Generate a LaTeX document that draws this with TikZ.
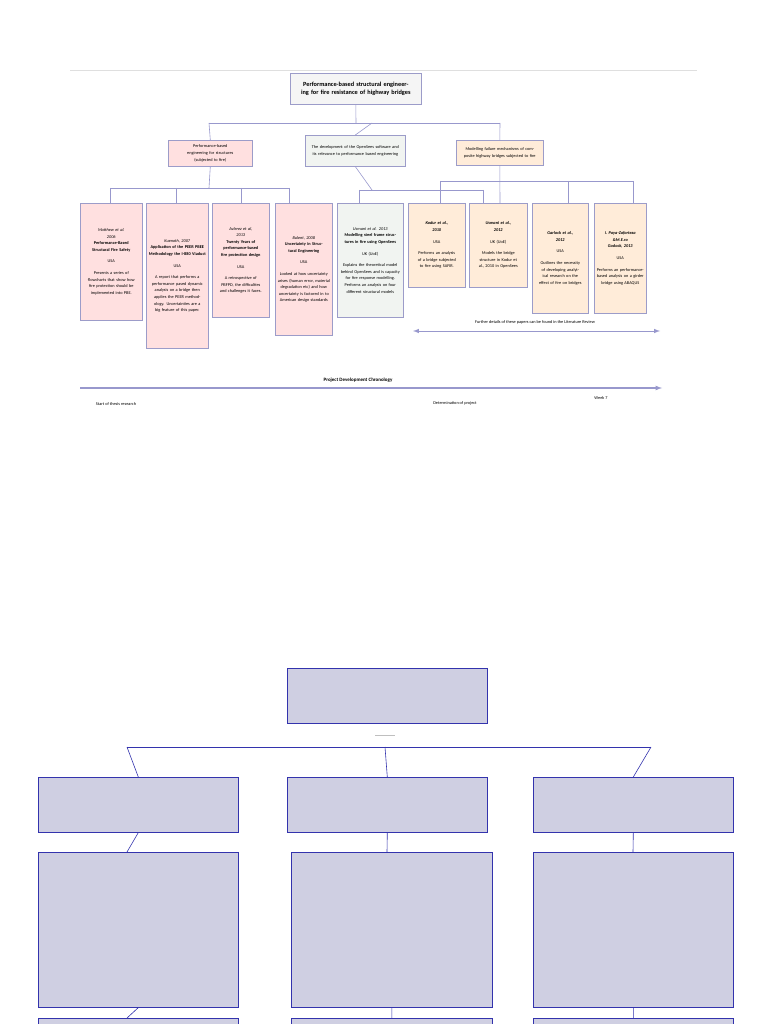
\documentclass[tikz,border=0pt]{standalone}
\usepackage{fontspec}
\setmainfont{Carlito}
\begin{document}
\begin{tikzpicture}[x=1pt,y=-1pt,
 ln/.style={draw=blue!35!gray!60, line width=0.6pt},
 bx/.style={draw=blue!30!gray!60, line width=0.6pt, anchor=north west, inner sep=1pt, align=center, font=\fontsize{4.3}{6.6}\selectfont},
 pk/.style={bx, fill=red!12!white},
 gr/.style={bx, fill=green!10!gray!10!white},
 pc/.style={bx, fill=orange!15!white},
 bb/.style={draw=blue!60!black!80, fill=blue!25!gray!30!white, line width=0.6pt, anchor=north west, minimum width=200pt}]
\useasboundingbox (0,0) rectangle (768,1024);
\draw[gray!25, line width=0.5pt] (70,70) -- (697,70);
\node[bx, fill=gray!8, font=\fontsize{6.3}{7.6}\selectfont\bfseries, minimum width=131pt, minimum height=31pt, text width=125pt] (top) at (290,73) {Performance-based structural engineering for fire resistance of highway bridges};
\node[pk, minimum width=84pt, minimum height=26pt, text width=78pt] (pb) at (168,140) {Performance-based\\engineering for structures\\(subjected to fire)};
\node[gr, minimum width=100pt, minimum height=31pt, text width=94pt] (os) at (305,135) {The development of the OpenSees software and its relevance to performance based engineering};
\node[pc, minimum width=87pt, minimum height=25pt, text width=82pt] (mf) at (456,140) {Modelling failure mechanisms of composite highway bridges subjected to fire};
\coordinate (j0) at (356,123);
\draw[ln] (top.south) -- (j0);
\draw[ln] (209,123) -- (500,123);
\draw[ln] (209,123) -- (pb.north);
\draw[ln] (372,123) -- (os.north);
\draw[ln] (500,123) -- (mf.north);
% papers
\node[pk, minimum width=62pt, minimum height=117pt, text width=58pt] (p1) at (80,203) {\textit{Matthew et al.\\2006}\\\textbf{Performance-Based Structural Fire Safety}\\[5pt]USA\\[5pt]Presents a series of flowcharts that show how fire protection should be implemented into PBE.};
\node[pk, minimum width=62pt, minimum height=145pt, text width=58pt] (p2) at (146,203) {\textit{Kuenoth, 2007}\\\textbf{Application of the PEER PBEE Methodology the I-880 Viaduct}\\[5pt]USA\\[5pt]A report that performs a performance pased dynamic analysis on a bridge then applies the PEER methodology. Uncertainties are a big feature of this paper.};
\node[pk, minimum width=57pt, minimum height=114pt, text width=53pt] (p3) at (212,203) {\textit{Avlerez et al,\\2013}\\\textbf{Twenty Years of performance-based fire protection design}\\[5pt]USA\\[5pt]A retrospective of PBFPD, the difficulties and challenges it faces.};
\node[pk, minimum width=57pt, minimum height=132pt, text width=55pt] (p4) at (275,203) {\textit{Bulent, 2008}\\\textbf{Uncertainty in Structural Engineering}\\[5pt]USA\\[5pt]Looked at how uncertainty arises (human error, material degradation etc) and how uncertainty is factored in to American design standards};
\node[gr, minimum width=66pt, minimum height=114pt, text width=62pt] (p5) at (337,203) {\textit{Usmani et al. 2013}\\\textbf{Modelling steel frame structures in fire using OpenSees}\\[5pt]UK (UoE)\\[5pt]Explains the theoretical model behind OpenSees and is capacity for fire response modelling. Performs an analysis on four different structural models};
\node[pc, minimum width=57pt, minimum height=84pt, text width=53pt] (p6) at (408,203) {\textbf{\textit{Kodur et al.,\\2010}}\\[5pt]USA\\[5pt]Performs an analysis of a bridge subjected to fire using SAFIR.};
\node[pc, minimum width=58pt, minimum height=84pt, text width=54pt] (p7) at (469,203) {\textbf{\textit{Usmani et al.,\\2012}}\\[5pt]UK (UoE)\\[5pt]Models the bridge structure in Kodur et al., 2010 in OpenSees};
\node[pc, minimum width=56pt, minimum height=110pt, text width=52pt] (p8) at (532,203) {\textbf{\textit{Garlock et al.,\\2012}}\\[5pt]USA\\[5pt]Outlines the necessity of developing analytical research on the effect of fire on bridges};
\node[pc, minimum width=52pt, minimum height=110pt, text width=48pt] (p9) at (594,203) {\textbf{\textit{I. Paya-Zaforteza\\\&M.E.ro\\Godock, 2013}}\\[5pt]USA\\[5pt]Performs an performance-based analysis on a girder bridge using ABAQUS};
% left tree
\draw[ln] (pb.south) -- (209,188);
\draw[ln] (110,188) -- (289,188);
\foreach \n/\x in {p1/110,p2/176,p3/241,p4/289} \draw[ln] (\x,188) -- (\x,203);
% middle
\draw[ln] (os.south) -- (372,190);
\draw[ln] (359,190) -- (483,190);
\draw[ln] (359,190) -- (359,203);
\draw[ln] (483,190) -- (483,203);
% right
\draw[ln] (mf.south) -- (500,203);
\draw[ln] (440,181) -- (633,181);
\foreach \x in {440,568,633} \draw[ln] (\x,181) -- (\x,203);
\node[font=\fontsize{4.3}{5}\selectfont] (fd) at (535,322) {Further details of these papers can be found in the Literature Review};
\coordinate (fa) at (413,331); \coordinate (fb) at (660,331);
\draw[ln, line width=1pt, <->, >=latex] (fa) -- (fb);
\node[font=\fontsize{5}{6}\selectfont\bfseries] (pd) at (358,380) {Project Development Chronology};
\coordinate (ca) at (80,388); \coordinate (cb) at (662,388);
\draw[ln, line width=1.2pt, ->, >=latex] (ca) -- (cb);
\node[font=\fontsize{4.3}{5}\selectfont] (s1) at (116,404) {Start of thesis research};
\node[font=\fontsize{4.3}{5}\selectfont] (s2) at (455,403) {Determination of project};
\node[font=\fontsize{4.3}{5}\selectfont] (s3) at (601,398) {Week 7};
% bottom blue chart
\node[bb, minimum height=55pt] (b0) at (287,668) {};
\draw[gray!50, line width=0.8pt] (375,735) -- (395,735);
\node[bb, minimum height=55pt] (b1) at (38,777) {};
\node[bb, minimum height=55pt] (b2) at (287,777) {};
\node[bb, minimum height=55pt] (b3) at (533,777) {};
\node[bb, minimum height=155pt] (c1) at (38,852) {};
\node[bb, minimum height=155pt, minimum width=201pt] (c2) at (291,852) {};
\node[bb, minimum height=155pt] (c3) at (533,852) {};
\node[bb, minimum height=20pt] (d1) at (38,1018) {};
\node[bb, minimum height=20pt, minimum width=201pt] (d2) at (291,1018) {};
\node[bb, minimum height=20pt] (d3) at (533,1018) {};
\draw[blue!60!black!80, line width=0.6pt] (127,747) -- (651,747);
\draw[blue!60!black!80, line width=0.6pt] (127,747) -- (b1.north) (385,747) -- (b2.north) (651,747) -- (b3.north);
\draw[blue!60!black!80, line width=0.6pt] (b1.south) -- (127,852) (b2.south) -- (387,852) (b3.south) -- (633,852);
\draw[blue!60!black!80, line width=0.6pt] (c1.south) -- (127,1018) (c2.south) -- (c2.south |- d2.north) (c3.south) -- (c3.south |- d3.north);
\end{tikzpicture}
\end{document}
